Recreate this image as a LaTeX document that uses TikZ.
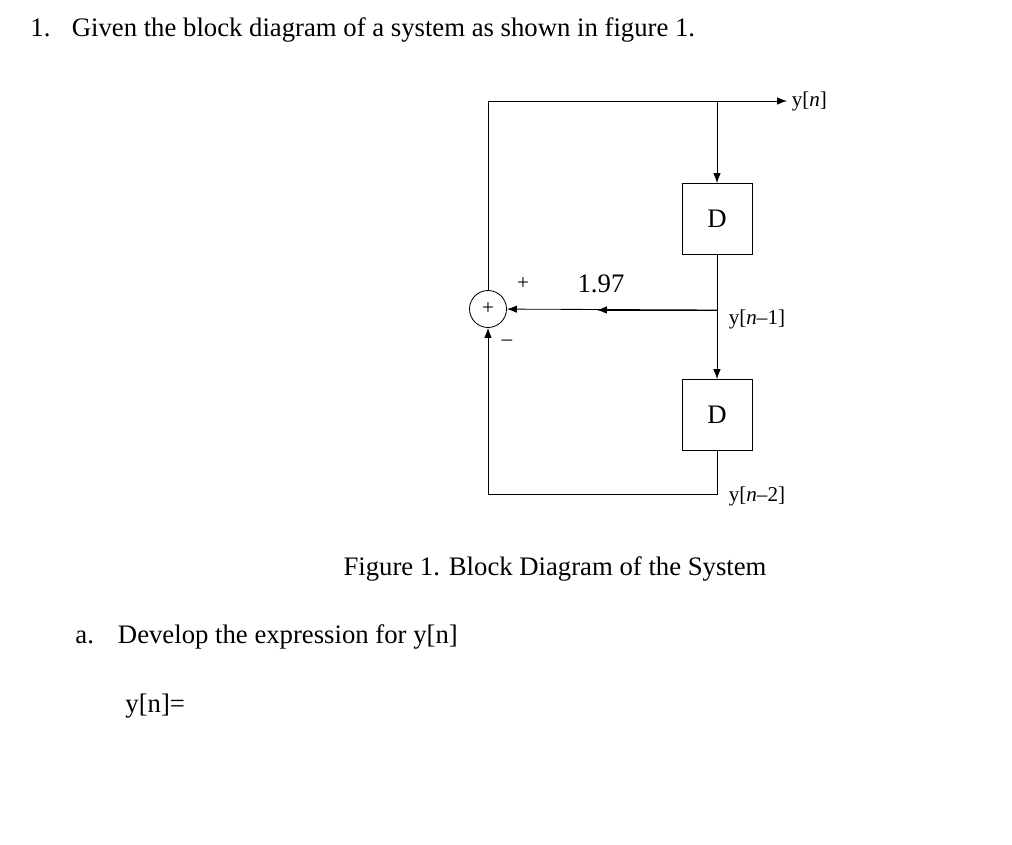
\documentclass[tikz,border=0pt]{standalone}
\usepackage{fontspec}
\setmainfont{Liberation Serif}
\usetikzlibrary{arrows.meta}

\begin{document}
\begin{tikzpicture}[x=0.025cm, y=-0.025cm, semithick,
  blk/.style={draw, minimum width=70*0.025cm, minimum height=71*0.025cm, inner sep=0pt, font=\fontsize{19}{22}\selectfont},
  lbl/.style={font=\fontsize{15}{18}\selectfont, inner sep=1pt},
  txt/.style={font=\fontsize{19}{23}\selectfont, anchor=west, inner sep=0pt}]
            \useasboundingbox (0,0) rectangle (1012,844);

            \node[txt] (q1) at (30, 30) {1.\hspace{0.8em}Given the block diagram of a system as shown in figure 1.};
            \node[txt, anchor=center] (cap) at (555, 569) {Figure 1. Block Diagram of the System};
            \node[txt] (qa) at (75, 637) {a.\hspace{0.9em}Develop the expression for y[n]};
            \node[txt] (ans) at (125, 706) {y[n]=};

            \node[draw, circle, minimum size=37*0.025cm, inner sep=0pt, font=\fontsize{15}{18}\selectfont] (S) at (488, 309) {+};
            \node[blk] (D1) at (717, 219) {D};
            \node[blk] (D2) at (717, 415) {D};
            \coordinate (tl) at (488, 101);
            \coordinate (tm) at (717, 101);
            \coordinate (out) at (787, 101);
            \coordinate (mm) at (717, 310);
            \coordinate (bm) at (717, 494);
            \coordinate (bl) at (488, 494);

            \node[lbl, anchor=west] (yn) at (790, 101) {y[\textit{n}]};
            \node[lbl, anchor=west] (yn1) at (727, 319) {y[\textit{n}--1]};
            \node[lbl, anchor=west] (yn2) at (727, 496) {y[\textit{n}--2]};
            \node[font=\fontsize{19}{22}\selectfont] (g) at (601, 284) {1.97};
            \node[lbl] (plus) at (523, 284) {+};
            \node[lbl] (minus) at (507, 343) {--};

            \draw (S) -- (tl) -- (tm);
            \draw[-{Latex[length=7pt]}] (tm) -- (out);
            \draw[-{Latex[length=7pt]}] (tm) -- (D1);
            \draw (D1) -- (mm);
            \draw[-{Latex[length=7pt]}] (mm) -- (D2);
            \draw[-{Latex[length=7pt]}] (mm) -- (S);
            \draw[-{Latex[length=7pt]}] (mm) -- (597, 310);
            \draw (D2) -- (bm) -- (bl);
            \draw[-{Latex[length=7pt]}] (bl) -- (S);
         \end{tikzpicture}
\end{document}
